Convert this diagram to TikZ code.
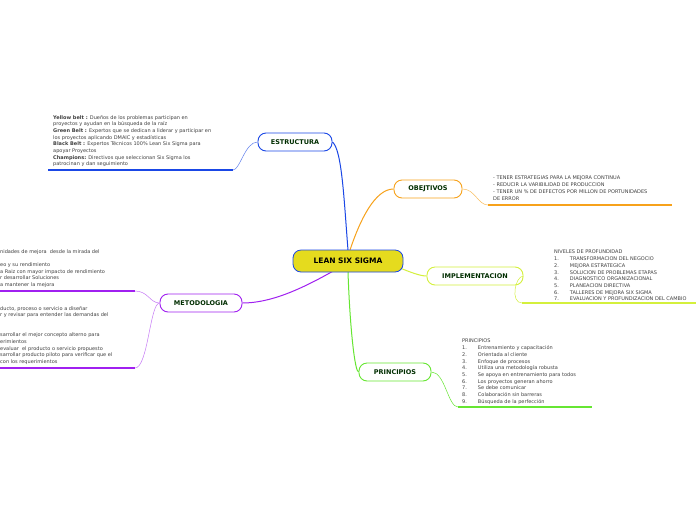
\documentclass[tikz,border=0pt]{standalone}
\usepackage{fontspec}
\setmainfont{DejaVu Sans}
\begin{document}
\begin{tikzpicture}[x=1pt,y=-1pt,
 topic/.style={draw,line width=0.9pt,rounded corners=8pt,fill=white,minimum height=18pt,font=\fontsize{6.5}{7}\selectfont\bfseries,text=black!70!green!60!black},
 txt/.style={align=left,anchor=north west,inner sep=0pt,font=\fontsize{5}{6.7}\selectfont,text=black!75},
 ul/.style={line width=1.4pt}]
\definecolor{cb}{HTML}{1A47E6}\definecolor{co}{HTML}{F7A21B}\definecolor{cy}{HTML}{D4F03C}
\definecolor{cg}{HTML}{66E632}\definecolor{cp}{HTML}{A020F0}\definecolor{cc}{HTML}{E5DB1E}
\useasboundingbox[clip] (0,0) rectangle (696,520);
\fill[white] (0,0) rectangle (696,520);
\node[topic,draw=cb,minimum width=74pt] (est) at (295,142) {ESTRUCTURA};
\node[topic,draw=co,minimum width=68pt] (obj) at (428,189) {OBEJTIVOS};
\node[topic,draw=cy,minimum width=96pt] (imp) at (475,276) {IMPLEMENTACION};
\node[topic,draw=cg,minimum width=72pt] (pri) at (395,372) {PRINCIPIOS};
\node[topic,draw=cp,minimum width=82pt] (met) at (201,303) {METODOLOGIA};
\draw[cb,line width=1pt] (348,250) .. controls (344,200) and (342,150) .. (est.east);
\draw[co,line width=1pt] (350,250) .. controls (360,220) and (375,189) .. (obj.west);
\draw[cy,line width=1pt] (400,268) .. controls (410,272) and (420,276) .. (imp.west);
\draw[cg,line width=1pt] (348,272) .. controls (350,330) and (355,372) .. (pri.west);
\draw[cp,line width=1pt] (335,270) .. controls (300,290) and (270,303) .. (met.east);
\node[draw=cb,line width=0.8pt,fill=cc,rounded corners=8pt,minimum width=110pt,minimum height=22pt,font=\fontsize{7.5}{8}\selectfont\bfseries] (root) at (348,261) {LEAN SIX SIGMA};
% estructura
\coordinate (e1) at (233,170);
\draw[cb!70!white,line width=0.5pt] (est.west) .. controls (245,142) and (240,170) .. (e1);
\draw[cb,ul] (e1) -- (48,170);
\node[txt] (et) at (53,115) {\textbf{Yellow belt :} Dueños de los problemas participan en\\proyectos y ayudan en la búsqueda de la raíz\\\textbf{Green Belt :} Expertos que se dedican a liderar y participar en\\los proyectos aplicando DMAIC y estadísticas\\\textbf{Black Belt :} Expertos Técnicos 100\% Lean Six Sigma para\\apoyar Proyectos\\\textbf{Champions:} Directivos que seleccionan Six Sigma los\\patrocinan y dan seguimiento};
% objetivos
\coordinate (o1) at (488,205);
\draw[co!70!white,line width=0.5pt] (obj.east) .. controls (475,189) and (478,205) .. (o1);
\draw[co,ul] (o1) -- (672,205);
\node[txt] (ot) at (493,176) {- TENER ESTRATEGIAS PARA LA MEJORA CONTINUA\\- REDUCIR LA VARIBILIDAD DE PRODUCCION\\- TENER UN \% DE DEFECTOS POR MILLON DE PORTUNIDADES\\DE ERROR};
% implementacion
\coordinate (i1) at (522,303);
\draw[cy,line width=0.5pt] (imp.east) .. controls (515,276) and (510,303) .. (i1);
\draw[cy,ul] (i1) -- (696,303);
\node[txt] (it) at (554,250) {NIVELES DE PROFUNDIDAD\\1.\hspace{11pt}TRANSFORMACION DEL NEGOCIO\\2.\hspace{11pt}MEJORA ESTRATEGICA\\3.\hspace{11pt}SOLUCION DE PROBLEMAS ETAPAS\\4.\hspace{11pt}DIAGNOSTICO ORGANIZACIONAL\\5.\hspace{11pt}PLANEACION DIRECTIVA\\6.\hspace{11pt}TALLERES DE MEJORA SIX SIGMA\\7.\hspace{11pt}EVALUACION Y PROFUNDIZACION DEL CAMBIO};
% principios
\coordinate (p1) at (458,407);
\draw[cg,line width=0.5pt] (pri.east) .. controls (445,372) and (448,407) .. (p1);
\draw[cg,ul] (p1) -- (592,407);
\node[txt] (pt) at (462,339) {PRINCIPIOS\\1.\hspace{11pt}Entrenamiento y capacitación\\2.\hspace{11pt}Orientada al cliente\\3.\hspace{11pt}Enfoque de procesos\\4.\hspace{11pt}Utiliza una metodología robusta\\5.\hspace{11pt}Se apoya en entrenamiento para todos\\6.\hspace{11pt}Los proyectos generan ahorro\\7.\hspace{11pt}Se debe comunicar\\8.\hspace{11pt}Colaboración sin barreras\\9.\hspace{11pt}Búsqueda de la perfección};
% metodologia
\coordinate (m1) at (135,291);
\coordinate (m2) at (135,368);
\draw[cp!60!white,line width=0.5pt] (met.west) .. controls (150,303) and (148,291) .. (m1);
\draw[cp!60!white,line width=0.5pt] (met.west) .. controls (150,303) and (148,368) .. (m2);
\draw[cp,ul] (m1) -- (0,291);
\draw[cp,ul] (m2) -- (0,368);
\node[txt] (mt1) at (0,249) {nidades de mejora \ desde la mirada del\\\\eo y su rendimiento\\a Raiz con mayor impacto de rendimiento\\r desarrollar Soluciones\\a mantener la mejora};
\node[txt] (mt2) at (0,306) {ducto, proceso o servicio a diseñar\\r y revisar para entender las demandas del\\\\\\sarrollar el mejor concepto alterno para\\erimientos\\ evaluar \ el producto o servicio propuesto\\sarrollar producto piloto para verificar que el\\ con los requerimientos};
\end{tikzpicture}
\end{document}
